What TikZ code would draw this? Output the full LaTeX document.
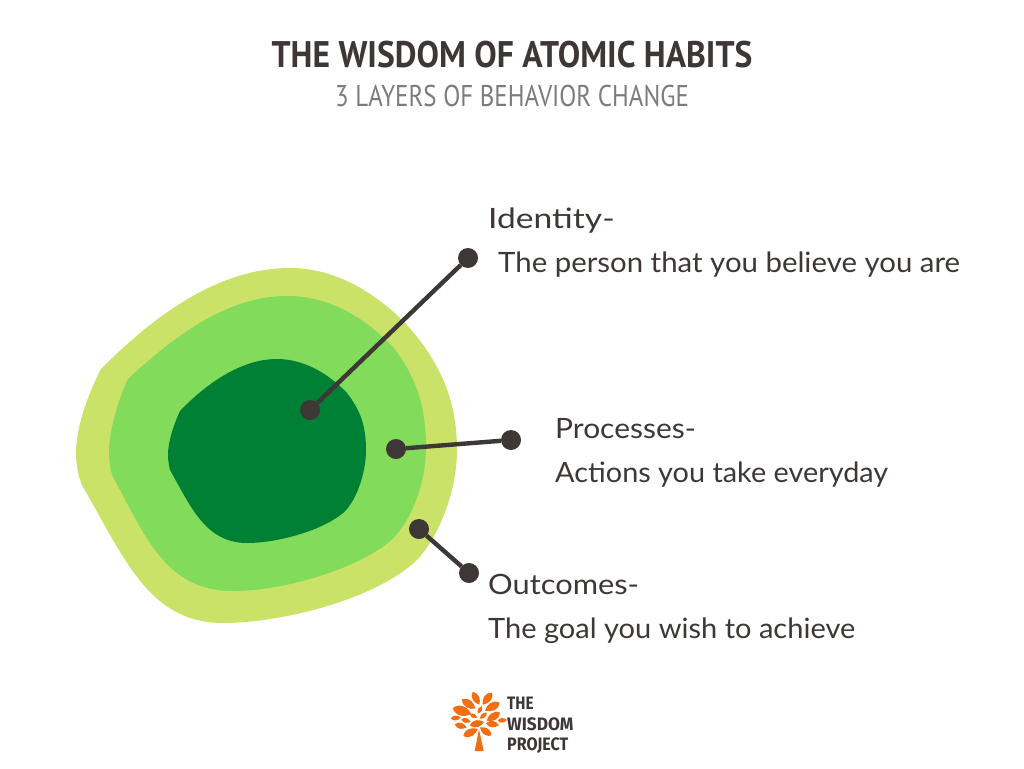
\documentclass[tikz,border=0pt]{standalone}
\usepackage{fontspec}
\setmainfont{Lato}
\newfontfamily\handfont{Lato}
\newfontfamily\titlefont{PT Sans}
\newfontfamily\logofont{Fira Sans}
\definecolor{ink}{HTML}{3D3735}
\definecolor{sub}{HTML}{7C7C7C}
\definecolor{outerc}{HTML}{CBE268}
\definecolor{midc}{HTML}{82DB5A}
\definecolor{innerc}{HTML}{008035}
\definecolor{logoc}{HTML}{F26E12}
\tikzset{
  dot/.style={circle,fill=ink,minimum size=20pt,inner sep=0pt,outer sep=0pt},
  link/.style={draw=ink,line width=4.4pt},
  hand/.style={anchor=base west,inner sep=0pt,text=ink,font=\handfont\fontsize{28}{30}\selectfont},
  titletext/.style={anchor=base,inner sep=0pt,text=ink,font=\titlefont\bfseries\fontsize{37}{38}\selectfont},
  subtext/.style={anchor=base,inner sep=0pt,text=sub,font=\titlefont\fontsize{30}{30}\selectfont},
  logotext/.style={anchor=base west,inner sep=0pt,text=ink,font=\logofont\bfseries\fontsize{18}{20}\selectfont},
}
\usetikzlibrary{calc}
\newcommand{\leafshape}[4]{\fill[logoc] (#1,#2) .. controls ($(#1,#2)!0.3!(#3,#4)!0.57!90:(#3,#4)$) and ($(#1,#2)!0.75!(#3,#4)!1!90:(#3,#4)$) .. (#3,#4) .. controls ($(#3,#4)!0.25!(#1,#2)!0.33!90:(#1,#2)$) and ($(#3,#4)!0.7!(#1,#2)!1.33!90:(#1,#2)$) .. (#1,#2) -- cycle;}
\begin{document}
\begin{tikzpicture}[x=1pt,y=-1pt]
\useasboundingbox (0,0) rectangle (1024,768);
\fill[white] (0,0) rectangle (1024,768);
% blobs
\fill[outerc] (101,369) .. controls (150,320) and (215,268) .. (290,268)
  .. controls (335,268) and (375,292) .. (407,325)
  .. controls (440,362) and (457,400) .. (457,450)
  .. controls (457,490) and (440,535) .. (417,560)
  .. controls (375,600) and (280,623) .. (223,623)
  .. controls (150,623) and (125,560) .. (82,485)
  .. controls (78,475) and (76,465) .. (76,453)
  .. controls (76,425) and (90,390) .. (101,369) -- cycle;
\fill[midc] (128,379) .. controls (170,340) and (225,296) .. (287,296)
  .. controls (330,296) and (365,318) .. (393,347)
  .. controls (415,375) and (426,405) .. (426,447)
  .. controls (426,485) and (410,525) .. (388,543)
  .. controls (350,572) and (280,591) .. (233,591)
  .. controls (165,591) and (145,535) .. (113,477)
  .. controls (110,470) and (109,460) .. (109,450)
  .. controls (109,430) and (120,395) .. (128,379) -- cycle;
\fill[innerc] (180,411) .. controls (205,385) and (240,359) .. (277,359)
  .. controls (305,359) and (330,375) .. (347,393)
  .. controls (360,410) and (366,425) .. (366,450)
  .. controls (366,475) and (355,503) .. (343,513)
  .. controls (320,532) and (275,543) .. (247,543)
  .. controls (205,543) and (190,505) .. (170,470)
  .. controls (169,466) and (168,460) .. (168,455)
  .. controls (168,440) and (175,422) .. (180,411) -- cycle;
% connectors
\node[dot] (d1a) at (468,258) {};
\node[dot] (d1b) at (310,410) {};
\node[dot] (d2a) at (511,440) {};
\node[dot] (d2b) at (396,449) {};
\node[dot] (d3a) at (419,529) {};
\node[dot] (d3b) at (469,573) {};
\draw[link] (d1a) -- (d1b);
\draw[link] (d2a) -- (d2b);
\draw[link] (d3a) -- (d3b);
% titles
\node[titletext] (title) at (512,67) {\scalebox{0.907}[1]{THE WISDOM OF ATOMIC HABITS}};
\node[subtext] (subtitle) at (512,106) {\scalebox{0.831}[1]{3 LAYERS OF BEHAVIOR CHANGE}};
% labels
\node[hand] (t1) at (488,228) {\scalebox{1.2}[1]{Identity-}};
\node[hand] (t2) at (498,272) {\scalebox{1.05}[1]{The person that you believe you are}};
\node[hand] (t3) at (555,438) {\scalebox{1.07}[1]{Processes-}};
\node[hand] (t4) at (555,482) {\scalebox{1.03}[1]{Actions you take everyday}};
\node[hand] (t5) at (488,594) {\scalebox{1.1}[1]{Outcomes-}};
\node[hand] (t6) at (488,638) {\scalebox{1.037}[1]{The goal you wish to achieve}};
% logo
\begin{scope}[shift={(430,680)},x=0.3333pt,y=-0.3333pt]
\fill[logoc] (147,148) -- (134,213) -- (161,213) -- cycle;
\leafshape{128}{36}{148}{74}
\leafshape{186}{38}{158}{74}
\leafshape{96}{58}{136}{86}
\leafshape{209}{68}{165}{92}
\leafshape{68}{84}{124}{102}
\leafshape{210}{98}{170}{122}
\leafshape{62}{115}{92}{113}
\leafshape{94}{118}{122}{125}
\leafshape{120}{103}{143}{113}
\leafshape{144}{100}{156}{78}
\leafshape{170}{98}{150}{116}
\leafshape{120}{136}{162}{126}
\leafshape{74}{133}{110}{142}
\leafshape{168}{130}{207}{135}
\leafshape{203}{122}{231}{120}
\leafshape{100}{168}{143}{147}
\leafshape{184}{166}{150}{142}
\end{scope}
\node[logotext] (l1) at (507,709) {\scalebox{0.85}[1]{THE}};
\node[logotext] (l2) at (507,730) {\scalebox{0.96}[1]{WISDOM}};
\node[logotext] (l3) at (507,750) {\scalebox{0.89}[1]{PROJECT}};
\end{tikzpicture}
\end{document}
